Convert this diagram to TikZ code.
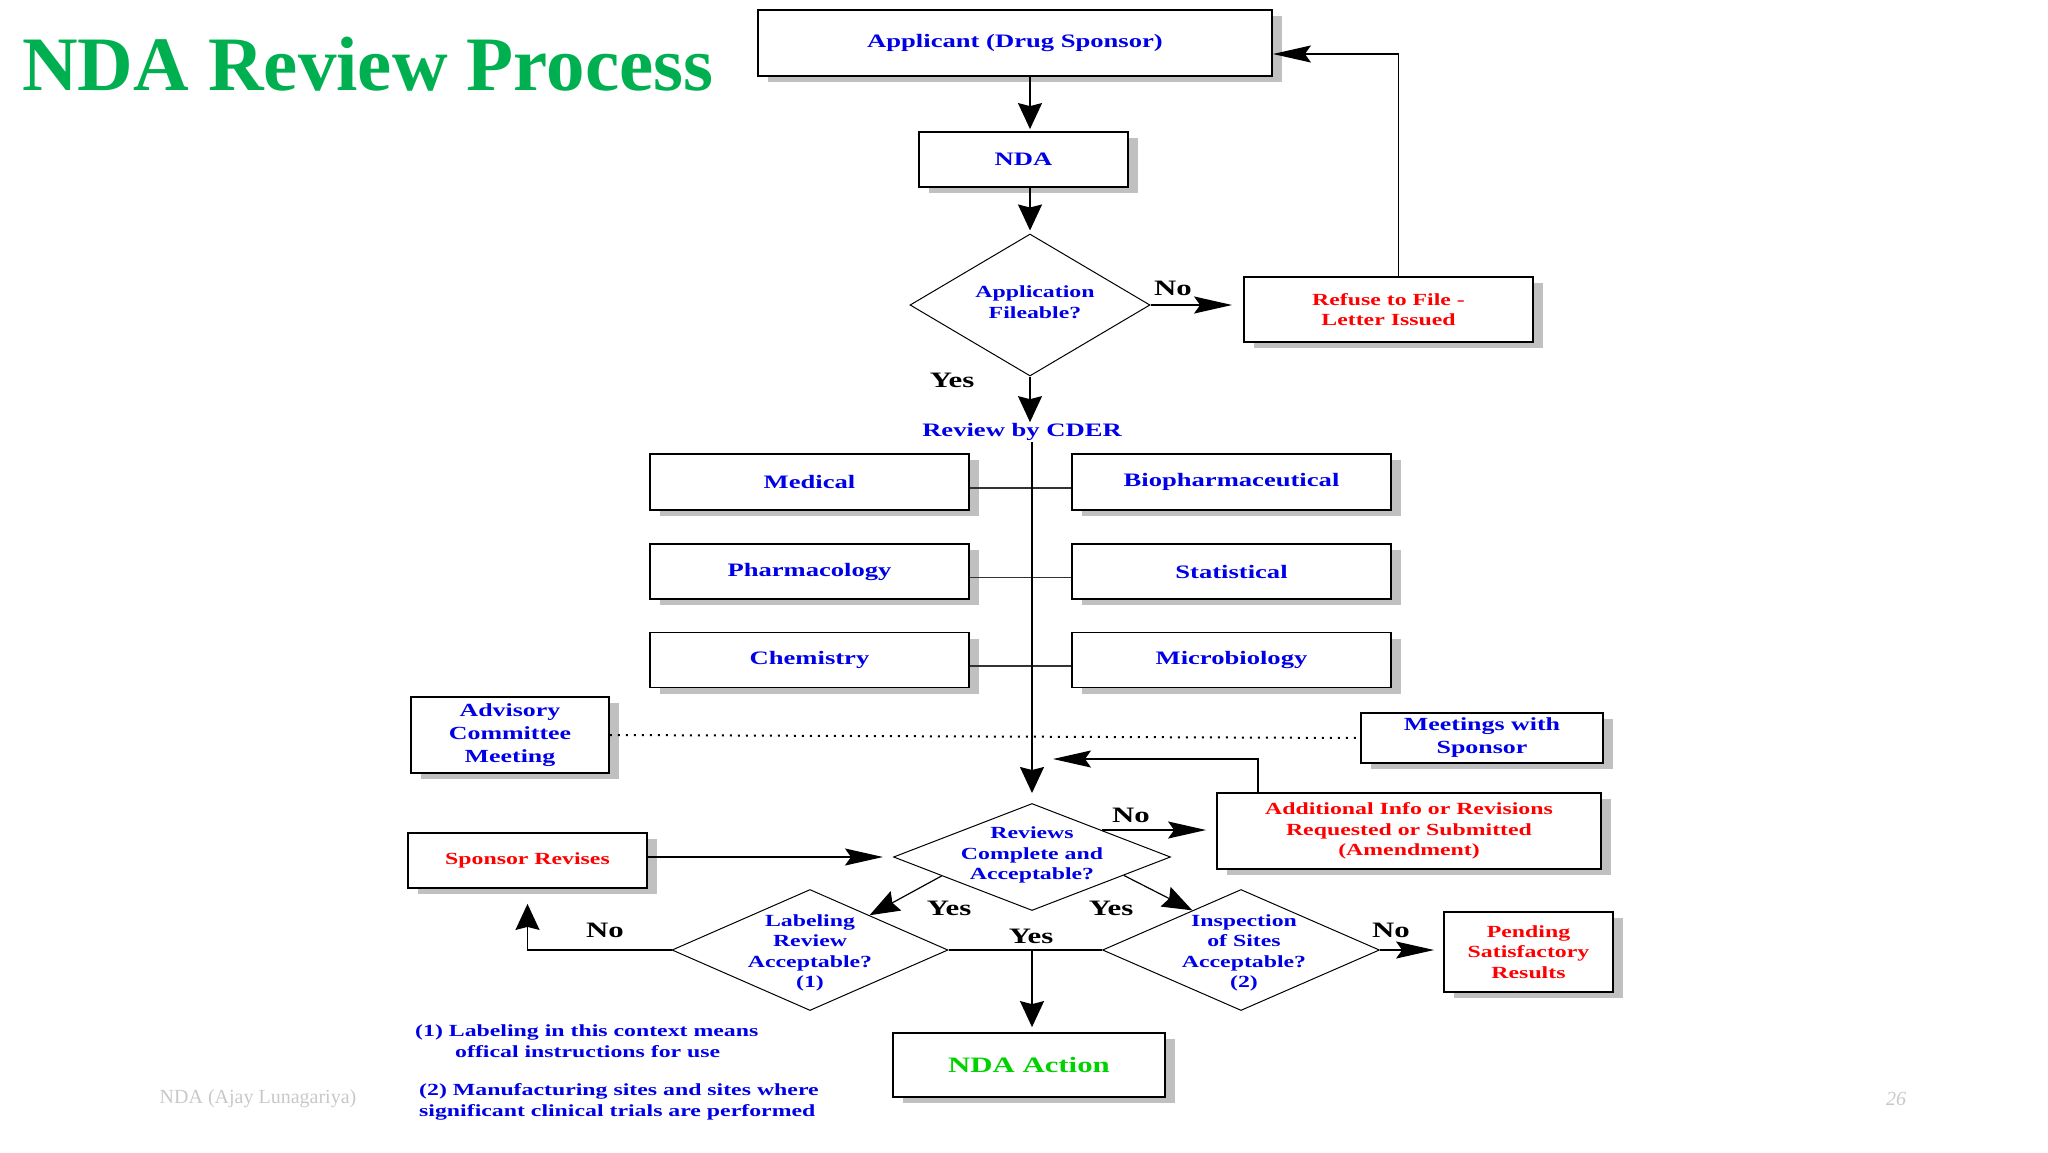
\documentclass[tikz,border=0pt]{standalone}
\usepackage{fontspec}
\setmainfont{Liberation Serif}
\newfontfamily\flowfont[FakeStretch=1.4]{Liberation Serif}
\usepackage{tikz}
\usetikzlibrary{arrows.meta, shapes.geometric, shadows, calc}
\usepackage{xcolor}

\definecolor{txtblue}{RGB}{0,0,230}
\definecolor{txtred}{RGB}{255,0,0}
\definecolor{titlegreen}{RGB}{0,176,80}
\definecolor{actgreen}{RGB}{0,210,0}
\definecolor{boxshadow}{RGB}{192,192,192}
\definecolor{markgray}{RGB}{200,200,200}

\tikzset{
	box/.style={draw, line width=1.8pt, fill=white, inner sep=0pt,
		drop shadow={shadow xshift=10pt, shadow yshift=-6pt, fill=boxshadow, opacity=1}},
	decision/.style={diamond, draw, line width=1pt, fill=white, inner sep=0pt},
	bigtxt/.style={font=\flowfont\bfseries\fontsize{19}{23}\selectfont, text=txtblue},
	midtxt/.style={font=\flowfont\bfseries\fontsize{18.5}{23}\selectfont, text=txtblue, align=center},
	smalltxt/.style={font=\flowfont\bfseries\fontsize{17}{20.5}\selectfont, text=txtblue, align=center, inner sep=0pt},
	notetxt/.style={font=\flowfont\bfseries\fontsize{17}{21}\selectfont, text=txtblue, align=left, inner sep=0pt},
	answer/.style={font=\flowfont\bfseries\fontsize{22}{26}\selectfont, text=black, inner sep=0pt},
	flow/.style={line width=1.6pt},
	varrow/.style={flow, -{Stealth[length=26pt, width=24pt, inset=3pt]}},
	harrow/.style={flow, -{Stealth[length=38pt, width=17pt, inset=6pt]}},
	darrow/.style={line width=1.2pt, -{Stealth[length=30pt, width=22pt, inset=4pt]}},
	link/.style={line width=1.2pt, draw=black!80},
}

\begin{document}
\begin{tikzpicture}[x=1pt, y=-1pt]
	\useasboundingbox (0,0) rectangle (2048,1152);
	% Title
	\node[anchor=base west, inner sep=0pt, text=titlegreen,
		font=\bfseries\fontsize{77}{90}\selectfont] (title) at (22,90) {NDA Review Process};
	% Filing
	\node[box, bigtxt, minimum width=514pt, minimum height=66pt] (app) at (1015,43) {Applicant (Drug Sponsor)};
	\node[box, bigtxt, minimum width=209pt, minimum height=55pt] (nda) at (1023.5,159.5) {NDA};
	\node[decision, minimum width=240pt, minimum height=142pt] (chk) at (1030,305) {};
	\node[smalltxt] (chktxt) at (1035,302) {Application\\Fileable?};
	\node[box, smalltxt, text=txtred, minimum width=289pt, minimum height=65pt] (refuse) at (1388.5,309.5) {Refuse to File -\\Letter Issued};
	\node[bigtxt, inner sep=1pt] (cder) at (1022,432) {Review by CDER};
	\draw[varrow, shorten >=2pt] (app.south -| chk.north) -- (nda.north -| chk.north);
	\draw[varrow, shorten >=3pt] (nda.south -| chk.north) -- (chk.north);
	\draw[harrow, shorten >=11pt] (chk.east) -- (chk.east -| refuse.west);
	\draw[harrow] ([xshift=10pt]refuse.north) |- ([yshift=-11pt]app.east);
	\draw[varrow] (chk.south) -- (cder.north -| chk.south);
	\node[answer] (nochk) at (1173,288) {No};
	\node[answer] (yeschk) at (952,380) {Yes};
	% Review disciplines
	\node[box, bigtxt, minimum width=319pt, minimum height=56pt] (med) at (809.5,482) {Medical};
	\node[box, bigtxt, minimum width=319pt, minimum height=56pt] (bio) at (1231.5,482) {Biopharmaceutical};
	\node[box, bigtxt, minimum width=319pt, minimum height=55pt] (pharm) at (809.5,571.5) {Pharmacology};
	\node[box, bigtxt, minimum width=319pt, minimum height=55pt] (stat) at (1231.5,571.5) {Statistical};
	\node[box, bigtxt, minimum width=319pt, minimum height=55pt] (chem) at (809.5,660) {Chemistry};
	\node[box, bigtxt, minimum width=319pt, minimum height=55pt] (micro) at (1231.5,660) {Microbiology};
	\draw[link] ([yshift=-6pt]med.east) -- ([yshift=-6pt]bio.west);
	\draw[link] ([yshift=-6pt]pharm.east) -- ([yshift=-6pt]stat.west);
	\draw[link] ([yshift=-6pt]chem.east) -- ([yshift=-6pt]micro.west);
	% Meetings
	\node[box, midtxt, minimum width=198pt, minimum height=76pt] (adv) at (510,735) {Advisory\\Committee\\Meeting};
	\node[box, midtxt, minimum width=242pt, minimum height=50pt] (meet) at (1482,738) {Meetings with\\Sponsor};
	\draw[line width=2pt, dash pattern=on 2pt off 6pt] (adv.east) -- (meet.west);
	% Decision on the reviews
	\node[decision, minimum width=277pt, minimum height=107pt] (rev) at (1032,857) {};
	\node[smalltxt] (revtxt) at (1032,855) {Reviews\\Complete and\\Acceptable?};
	\draw[varrow, shorten >=10pt] (cder.south -| rev.north) -- (rev.north);
	\node[box, smalltxt, text=txtred, minimum width=384pt, minimum height=76pt] (add) at (1409,831) {Additional Info or Revisions\\Requested or Submitted\\(Amendment)};
	\coordinate (backtip) at (1053,759);
	\draw[harrow, shorten >=10pt] (rev.north east) -- (rev.north east -| add.west);
	\draw[harrow] ([xshift=-151pt]add.north) |- (backtip);
	\node[answer] (norev) at (1131,815) {No};
	\node[box, smalltxt, text=txtred, minimum width=239pt, minimum height=55pt] (spons) at (527.5,860.5) {Sponsor Revises};
	\draw[harrow, shorten >=10pt] (spons.east |- rev.west) -- (rev.west);
	% Labeling and inspection
	\node[decision, minimum width=276pt, minimum height=121pt] (lab) at (810,950) {};
	\node[smalltxt] (labtxt) at (810,953) {Labeling\\Review\\Acceptable?\\(1)};
	\node[decision, minimum width=277pt, minimum height=121pt] (insp) at (1241,950) {};
	\node[smalltxt] (insptxt) at (1244,953) {Inspection\\of Sites\\Acceptable?\\(2)};
	\node[box, smalltxt, text=txtred, minimum width=169pt, minimum height=80pt] (pend) at (1528.5,952) {Pending\\Satisfactory\\Results};
	\node[box, font=\flowfont\bfseries\fontsize{22}{26}\selectfont, text=actgreen, minimum width=272pt, minimum height=64pt] (act) at (1029,1065) {NDA Action};
	\draw[darrow] ($(rev.west)!0.35!(rev.south)$) -- ($(lab.north)!0.43!(lab.east)$);
	\draw[darrow] ($(rev.east)!0.34!(rev.south)$) -- ($(insp.west)!0.65!(insp.north)$);
	\draw[flow] (lab.east) -- (insp.west);
	\draw[varrow, shorten >=5pt] (rev.south |- lab.east) -- (act.north -| rev.south);
	\draw[varrow, shorten >=15pt] (lab.west) -| (spons.south);
	\draw[harrow, shorten >=9pt] (insp.east) -- (insp.east -| pend.west);
	\node[answer] (yeslab) at (949,908) {Yes};
	\node[answer] (yesins) at (1111,908) {Yes};
	\node[answer] (yesact) at (1031,936) {Yes};
	\node[answer] (nolab) at (605,930) {No};
	\node[answer] (noins) at (1391,930) {No};
	% Footnotes
	\node[notetxt, anchor=north west] (note1) at (415,1024) {(1) Labeling in this context means\\\hspace*{40pt}offical instructions for use};
	\node[notetxt, anchor=north west] (note2) at (419,1083) {(2) Manufacturing sites and sites where\\significant clinical trials are performed};
	\node[text=markgray, font=\fontsize{20}{24}\selectfont] (mark) at (258,1099) {NDA (Ajay Lunagariya)};
	\node[text=markgray, font=\itshape\fontsize{20}{24}\selectfont] (page) at (1896,1099) {26};
\end{tikzpicture}
\end{document}
